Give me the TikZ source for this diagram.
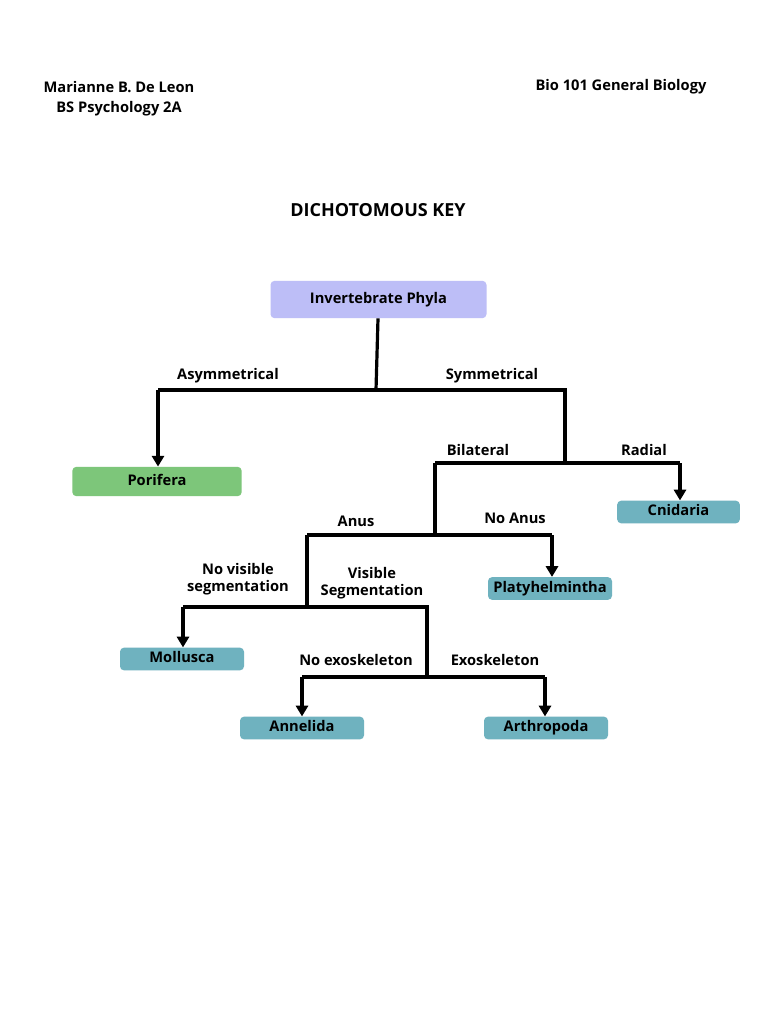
\documentclass[tikz,border=0pt]{standalone}
\usepackage{fontspec}
\setmainfont{Open Sans}
\usetikzlibrary{arrows.meta}
\definecolor{lav}{HTML}{BDBEF7}
\definecolor{grn}{HTML}{7DC67A}
\definecolor{teal}{HTML}{6FB2BF}
\begin{document}
\begin{tikzpicture}[x=0.75pt,y=-0.75pt,
  lbl/.style={font=\bfseries\fontsize{11}{13}\selectfont,align=center},
  box/.style={rounded corners=3pt,font=\bfseries\fontsize{11}{13}\selectfont,inner sep=0pt,text height=8pt,text depth=2.5pt},
  ln/.style={line width=2.4pt},
  ar/.style={line width=2.4pt,-{Triangle[length=8pt,width=9pt]}}]
\useasboundingbox (0,0) rectangle (768,1024);
\fill[white] (0,0) rectangle (768,1024);
\node[lbl] (n1) at (119,87) {Marianne B. De Leon};
\node[lbl] (n2) at (119,109) {BS Psychology 2A};
\node[lbl] (n3) at (621,87) {Bio 101 General Biology};
\node[lbl,font=\bfseries\fontsize{13.5}{15}\selectfont] (t) at (378,210) {DICHOTOMOUS KEY};
% boxes
\node[box,fill=lav,minimum width=162pt,minimum height=28pt] (inv) at (378.5,299.5) {Invertebrate Phyla};
\node[box,fill=grn,minimum width=127pt,minimum height=22pt] (por) at (157,481.5) {Porifera};
\node[box,fill=teal,minimum width=92pt,minimum height=17pt] (cni) at (678.5,512) {Cnidaria};
\node[box,fill=teal,minimum width=93pt,minimum height=17pt] (pla) at (550,588.5) {Platyhelmintha};
\node[box,fill=teal,minimum width=93pt,minimum height=17pt] (mol) at (182,659) {Mollusca};
\node[box,fill=teal,minimum width=93pt,minimum height=17pt] (ann) at (302,728) {Annelida};
\node[box,fill=teal,minimum width=93pt,minimum height=17pt] (art) at (546,728) {Arthropoda};
% junction coordinates
\coordinate (j1) at (376,390);
\coordinate (j1l) at (158,390);
\coordinate (j1r) at (565,390);
\coordinate (j2) at (565,463);
\coordinate (j2l) at (435,463);
\coordinate (j2r) at (680,463);
\coordinate (j3) at (435,535);
\coordinate (j3l) at (307,535);
\coordinate (j3r) at (552,535);
\coordinate (j4) at (307,607);
\coordinate (j4l) at (183,607);
\coordinate (j4r) at (427,607);
\coordinate (j5) at (427,677);
\coordinate (j5l) at (302,677);
\coordinate (j5r) at (545,677);
\draw[ln] (inv.south -| 378,0) -- (j1);
\draw[ln] (j1l) -- (j1r) -- (j2);
\draw[ar] (j1l) -- (por.north -| j1l);
\draw[ln] (j2l) -- (j2r);
\draw[ar] (j2r) -- (cni.north -| j2r);
\draw[ln] (j2l) -- (j3);
\draw[ln] (j3l) -- (j3r);
\draw[ar] (j3r) -- (pla.north -| j3r);
\draw[ln] (j3l) -- (j4);
\draw[ln] (j4l) -- (j4r) -- (j5);
\draw[ar] (j4l) -- (mol.north -| j4l);
\draw[ln] (j5l) -- (j5r);
\draw[ar] (j5l) -- (ann.north -| j5l);
\draw[ar] (j5r) -- (art.north -| j5r);
% labels
\node[lbl] (l1) at (228,376) {Asymmetrical};
\node[lbl] (l2) at (492,376) {Symmetrical};
\node[lbl] (l3) at (478,450) {Bilateral};
\node[lbl] (l4) at (644,450) {Radial};
\node[lbl] (l5) at (356,521) {Anus};
\node[lbl] (l6) at (515,518) {No Anus};
\node[lbl] (l7) at (238,579) {No visible\\segmentation};
\node[lbl] (l8) at (372,583) {Visible\\Segmentation};
\node[lbl] (l9) at (356,660) {No exoskeleton};
\node[lbl] (l10) at (495,660) {Exoskeleton};
\end{tikzpicture}
\end{document}
